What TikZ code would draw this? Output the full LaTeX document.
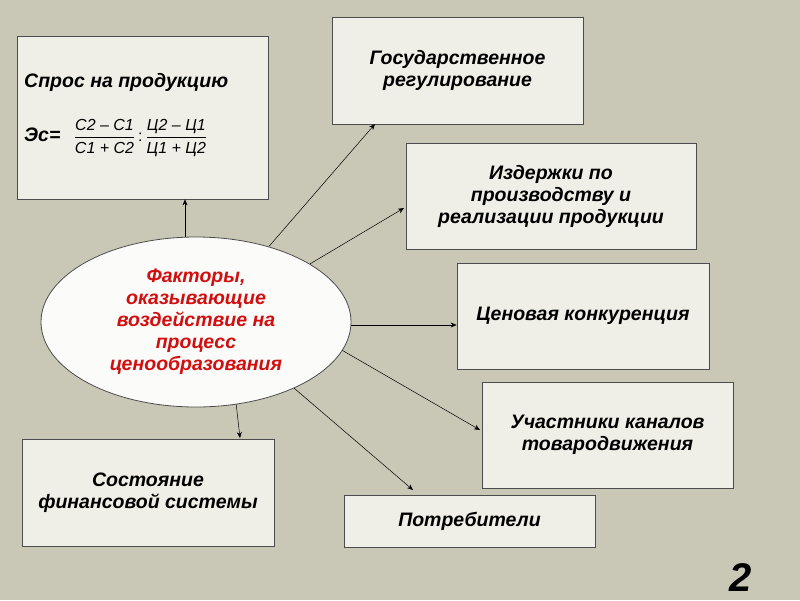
\documentclass[tikz,border=0pt]{standalone}
\usepackage{amsmath}
\usepackage{fontspec}
\setmainfont{Liberation Sans}
\usetikzlibrary{shapes.geometric,arrows.meta}
\definecolor{bg}{HTML}{C9C8B6}
\definecolor{boxf}{HTML}{EFEFE7}
\definecolor{redt}{HTML}{D01010}
\begin{document}
\begin{tikzpicture}[x=1pt,y=-1pt,
  bx/.style={draw=black!70,line width=0.8pt,fill=boxf},
  lbl/.style={font=\bfseries\itshape\fontsize{19.5}{22}\selectfont,align=center},
  arr/.style={-{Stealth[length=6pt,width=5pt]},line width=0.5pt}]
\fill[bg] (0,0) rectangle (800,600);
\useasboundingbox (0,0) rectangle (800,600);
\node[bx,minimum width=251pt,minimum height=163pt] (spros) at (142.5,117.5) {};
\node[lbl,anchor=west,inner sep=0pt] at (24,82) {Спрос на продукцию};
\node[anchor=west,inner sep=0pt,font=\fontsize{16}{18}\selectfont] at (24,138) {\textbf{\textit{\fontsize{19.5}{22}\selectfont Эс=}}\;\;
  $\dfrac{\text{\itshape С2 – С1}}{\text{\itshape С1 + С2}}\,\text{:}\,\dfrac{\text{\itshape Ц2 – Ц1}}{\text{\itshape Ц1 + Ц2}}$};
\node[bx,lbl,minimum width=251pt,minimum height=107pt] (gos) at (457.5,70.5) {Государственное\\регулирование};
\node[bx,lbl,minimum width=290pt,minimum height=106pt] (izd) at (551,196) {Издержки по\\производству и\\реализации продукции};
\node[bx,lbl,minimum width=252pt,minimum height=106pt] (cen) at (583,316) {Ценовая конкуренция};
\node[bx,lbl,minimum width=251pt,minimum height=106pt] (uch) at (607.5,435) {Участники каналов\\товародвижения};
\node[bx,lbl,minimum width=251pt,minimum height=52pt] (potr) at (469.5,521) {Потребители};
\node[bx,lbl,minimum width=252pt,minimum height=107pt] (sost) at (148,492.5) {Состояние\\финансовой системы};
\node[ellipse,draw=black!70,line width=0.8pt,fill=white!92!bg,minimum width=310pt,minimum height=170pt,inner sep=0pt,
  lbl,text=redt] (f) at (196,322) {Факторы,\\оказывающие\\воздействие на\\процесс\\ценообразования};
\draw[arr] (f.north) ++(-11,0) coordinate (a1) -- (a1 |- spros.south);
\draw[arr] (f.46) -- (375,124);
\draw[arr] (f.27) -- (404,208);
\draw[arr] (f.east) ++(0,3) coordinate (a4) -- (a4 -| cen.west);
\draw[arr] (f.-11) -- (480,430);
\draw[arr] (f.-34) -- (413,490);
\draw[arr] (f.-64) -- (240,438);
\node[font=\bfseries\itshape\fontsize{40}{40}\selectfont] (num) at (741,578) {2};
\end{tikzpicture}
\end{document}
